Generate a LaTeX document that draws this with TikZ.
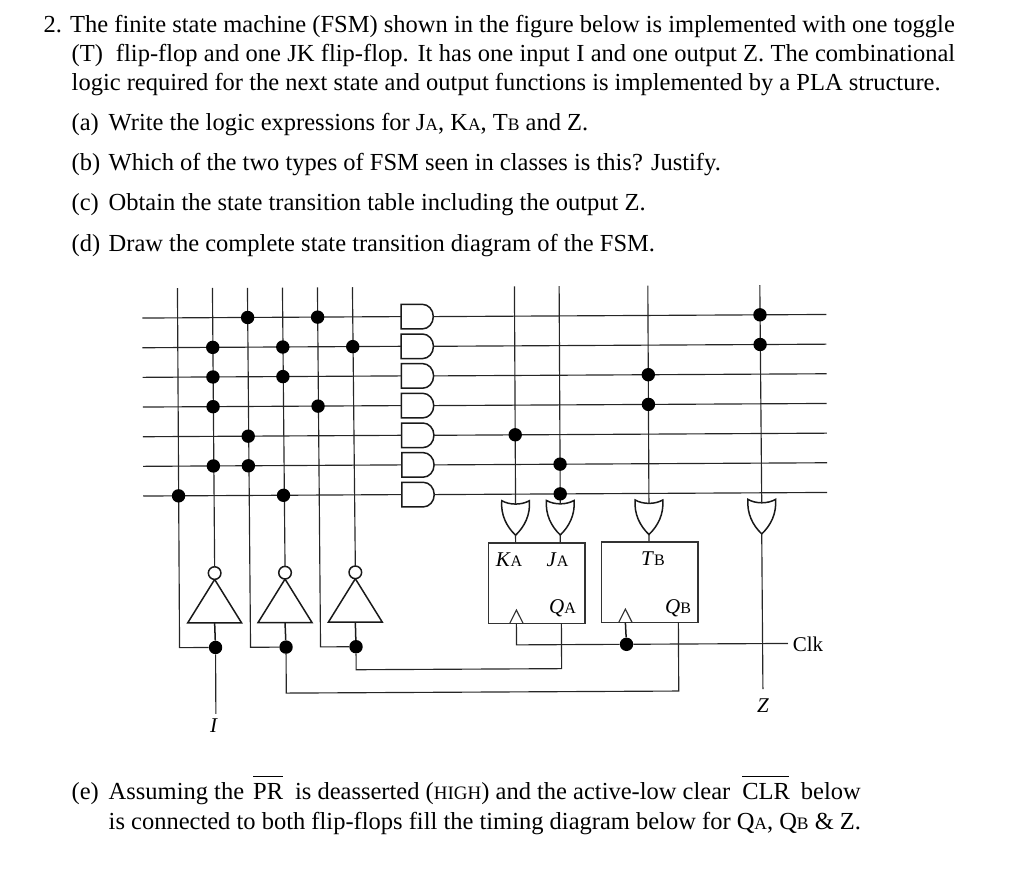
\documentclass[tikz,border=0pt]{standalone}
\usepackage{fontspec}
\setmainfont{Liberation Serif}
\newcommand{\smc}[1]{{\fontsize{17.5}{20}\selectfont #1}}
\newcommand{\dsm}[1]{{\fontsize{16}{18}\selectfont #1}}
\newcommand{\lab}[1]{\makebox[37pt][l]{#1}}
\newcommand{\bartext}[2]{\rlap{\raisebox{22.3pt}{\rule{#1}{0.8pt}}}#2}
\tikzset{
  wire/.style={line width=1.15pt,draw=black!85},
  gateline/.style={line width=1.5pt,draw=black!90},
  boxline/.style={line width=1.15pt,draw=black!80},
  dot/.style={circle,fill=black,draw=none,minimum size=13.4pt,inner sep=0pt},
  ptext/.style={anchor=base west,inner sep=0pt,font=\fontsize{24.5}{28}\selectfont},
  dtext/.style={anchor=base,inner sep=0pt,font=\fontsize{21}{24}\selectfont},
  andg/.pic={
    \draw[gateline] (-16.3,-12.3) -- (5,-12.3) .. controls (11,-12.3) and (16,-7) .. (16,0)
      .. controls (16,7) and (11,12.3) .. (5,12.3) -- (-16.3,12.3) -- cycle;
    \coordinate (-in) at (-16.3,0);
    \coordinate (-out) at (16,0);
  },
  org/.pic={
    \draw[gateline] (-13.8,0) .. controls (-6,4.5) and (6,4.5) .. (13.8,0)
      .. controls (15,14) and (9,26) .. (0,34.5)
      .. controls (-9,26) and (-15,14) .. (-13.8,0) -- cycle;
    \coordinate (-in) at (0,3.5);
    \coordinate (-out) at (0,34.5);
  },
  invg/.pic={
    \draw[gateline] (0,8) -- (27,51.5) -- (-27,51.5) -- cycle;
    \draw[gateline,fill=white] (0,1.6) circle[radius=6.3];
    \coordinate (-in) at (0,51.5);
    \coordinate (-out) at (0,-4.7);
  },
  clkg/.pic={
    \draw[boxline] (-6.8,0) -- (0,-13.5) -- (6.8,0);
    \coordinate (-in) at (0,0);
  },
}
\begin{document}
\begin{tikzpicture}[x=1pt,y=-1pt]
\useasboundingbox (0,0) rectangle (1024,874);

% ---------- text ----------
\node[ptext] (t1) at (43.5,32.5) {2. The finite state machine (FSM) shown in the figure below is implemented with one toggle};
\node[ptext] (t2) at (71.5,61.5) {\makebox[883.5pt][s]{(T)\hspace{13pt}flip-flop and one JK flip-flop. It has one input I and one output Z. The combinational}};
\node[ptext] (t3) at (71.5,90.7) {logic required for the next state and output functions is implemented by a PLA structure.};
\node[ptext] (t4) at (71.5,131) {\lab{(a)}Write the logic expressions for J\smc{A}, K\smc{A}, T\smc{B} and Z.};
\node[ptext] (t5) at (71.5,171) {\lab{(b)}Which of the two types of FSM seen in classes is this? Justify.};
\node[ptext] (t6) at (71.5,211) {\lab{(c)}Obtain the state transition table including the output Z.};
\node[ptext] (t7) at (71.5,252) {\lab{(d)}Draw the complete state transition diagram of the FSM.};
\node[ptext] (t8) at (71.5,799.5) {\lab{(e)}Assuming the\hspace{9pt}\bartext{30pt}{PR}\hspace{12pt}is deasserted ({\fontsize{19}{20}\selectfont HIGH}) and the active-low clear\hspace{12pt}\bartext{47pt}{CLR}\hspace{11pt}below};
\node[ptext] (t9) at (108.5,829.5) {is connected to both flip-flops fill the timing diagram below for Q\smc{A}, Q\smc{B} \& Z.};

% ---------- circuit (scanned slightly rotated) ----------
\begin{scope}[rotate around={0.3:(400,450)}]
  % named grid ends
  \foreach \i/\yy in {1/316.7,2/346.4,3/376,4/405.7,5/435.4,6/465,7/494.7}{
    \coordinate (hl\i) at (143,\yy);
    \coordinate (hr\i) at (827,\yy);
    \pic (a\i) at (418,\yy) {andg};
  }
  \foreach \i/\xx in {1/178.3,2/213.3,3/248.3,4/283.3,5/318.3,6/353.3,7/515.3,8/560,9/648.7,10/760.7}{
    \coordinate (vt\i) at (\xx,287);
    \foreach \j/\yy in {1/316.7,2/346.4,3/376,4/405.7,5/435.4,6/465,7/494.7}{
      \coordinate (x\i-\j) at (\xx,\yy);
    }
  }
  % gates
  \pic (o1) at (515.3,501.3) {org};
  \pic (o2) at (560,501.3) {org};
  \pic (o3) at (648.7,501.3) {org};
  \pic (o4) at (761.5,501.3) {org};
  \pic (i1) at (214,570.5) {invg};
  \pic (i2) at (284.4,570.5) {invg};
  \pic (i3) at (354.7,570.5) {invg};

  % flip-flops
  \node[boxline,draw,rectangle,minimum width=96.5pt,minimum height=80.5pt,inner sep=0pt] (ffa) at (536,584) {};
  \node[boxline,draw,rectangle,minimum width=96.5pt,minimum height=80.5pt,inner sep=0pt] (ffb) at (649,583.6) {};
  \pic (ca) at (515.5,624.2) {clkg};
  \pic (cb) at (624.5,623.8) {clkg};
  \coordinate (dka) at (ffa.north -| o1-out);
  \coordinate (dja) at (ffa.north -| o2-out);
  \coordinate (dtb) at (ffb.north -| o3-out);
  \coordinate (qa) at (560.5,624.2);
  \coordinate (qb) at (677.5,623.8);

  % rows
  \foreach \i in {1,...,7}{
    \draw[wire] (hl\i) -- (a\i-in);
    \draw[wire] (a\i-out) -- (hr\i);
  }
  % inputs
  \node[dot] (n1) at (214.5,646.5) {};
  \node[dot] (n2) at (285,646.5) {};
  \node[dot] (n3) at (355,646.5) {};
  \draw[wire] (vt1) -- (178.5,646.5) -- (n1);
  \draw[wire] (vt2) -- (i1-out);
  \draw[wire] (vt3) -- (249.5,646.5) -- (n2);
  \draw[wire] (vt4) -- (i2-out);
  \draw[wire] (vt5) -- (319.5,646.5) -- (n3);
  \draw[wire] (vt6) -- (i3-out);
  \draw[gateline] (i1-in) -- (n1);
  \draw[gateline] (i2-in) -- (n2);
  \draw[gateline] (i3-in) -- (n3);
  \coordinate (iend) at (214.5,713);
  \draw[wire] (n1) -- (iend);
  \draw[wire] (n3) |- (qa |- 0,669.5) -- (qa);
  \draw[wire] (n2) |- (qb |- 0,692.5) -- (qb);

  % outputs of the plane
  \draw[wire] (vt7) -- (o1-in);
  \draw[wire] (vt8) -- (o2-in);
  \draw[wire] (vt9) -- (o3-in);
  \draw[wire] (vt10) -- (o4-in);
  \draw[wire] (o1-out) -- (dka);
  \draw[wire] (o2-out) -- (dja);
  \draw[wire] (o3-out) -- (dtb);
  \coordinate (zend) at (761.7,691);
  \draw[wire] (o4-out) -- (zend);

  % clock
  \node[dot] (nc) at (625.5,645.5) {};
  \coordinate (clkend) at (787,645.5);
  \draw[wire] (ca-in) -- (515.5,645.5) -- (nc);
  \draw[gateline] (cb-in) -- (nc);
  \draw[wire] (nc) -- (clkend);

  % connection dots
  \foreach \c/\r in {3/1,5/1,2/2,4/2,6/2,2/3,4/3,2/4,5/4,3/5,2/6,3/6,1/7,4/7,7/5,8/6,8/7,9/3,9/4,10/1,10/2}{
    \node[dot] (d\c-\r) at (x\c-\r) {};
  }
\end{scope}

% ---------- circuit labels ----------
\node[dtext] (lka) at (509,566) {\textit{K}\dsm{A}};
\node[dtext] (lja) at (557.5,566) {\textit{J}\dsm{A}};
\node[dtext] (ltb) at (653,565) {\textit{T}\dsm{B}};
\node[dtext] (lqa) at (562.5,613) {\textit{Q}\dsm{A}};
\node[dtext] (lqb) at (678,613) {\textit{Q}\dsm{B}};
\node[dtext] (lclk) at (808,651) {Clk};
\node[dtext] (lz) at (763,712) {\textit{Z}};
\node[dtext] (li) at (214,732) {\textit{I}};
\end{tikzpicture}
\end{document}
